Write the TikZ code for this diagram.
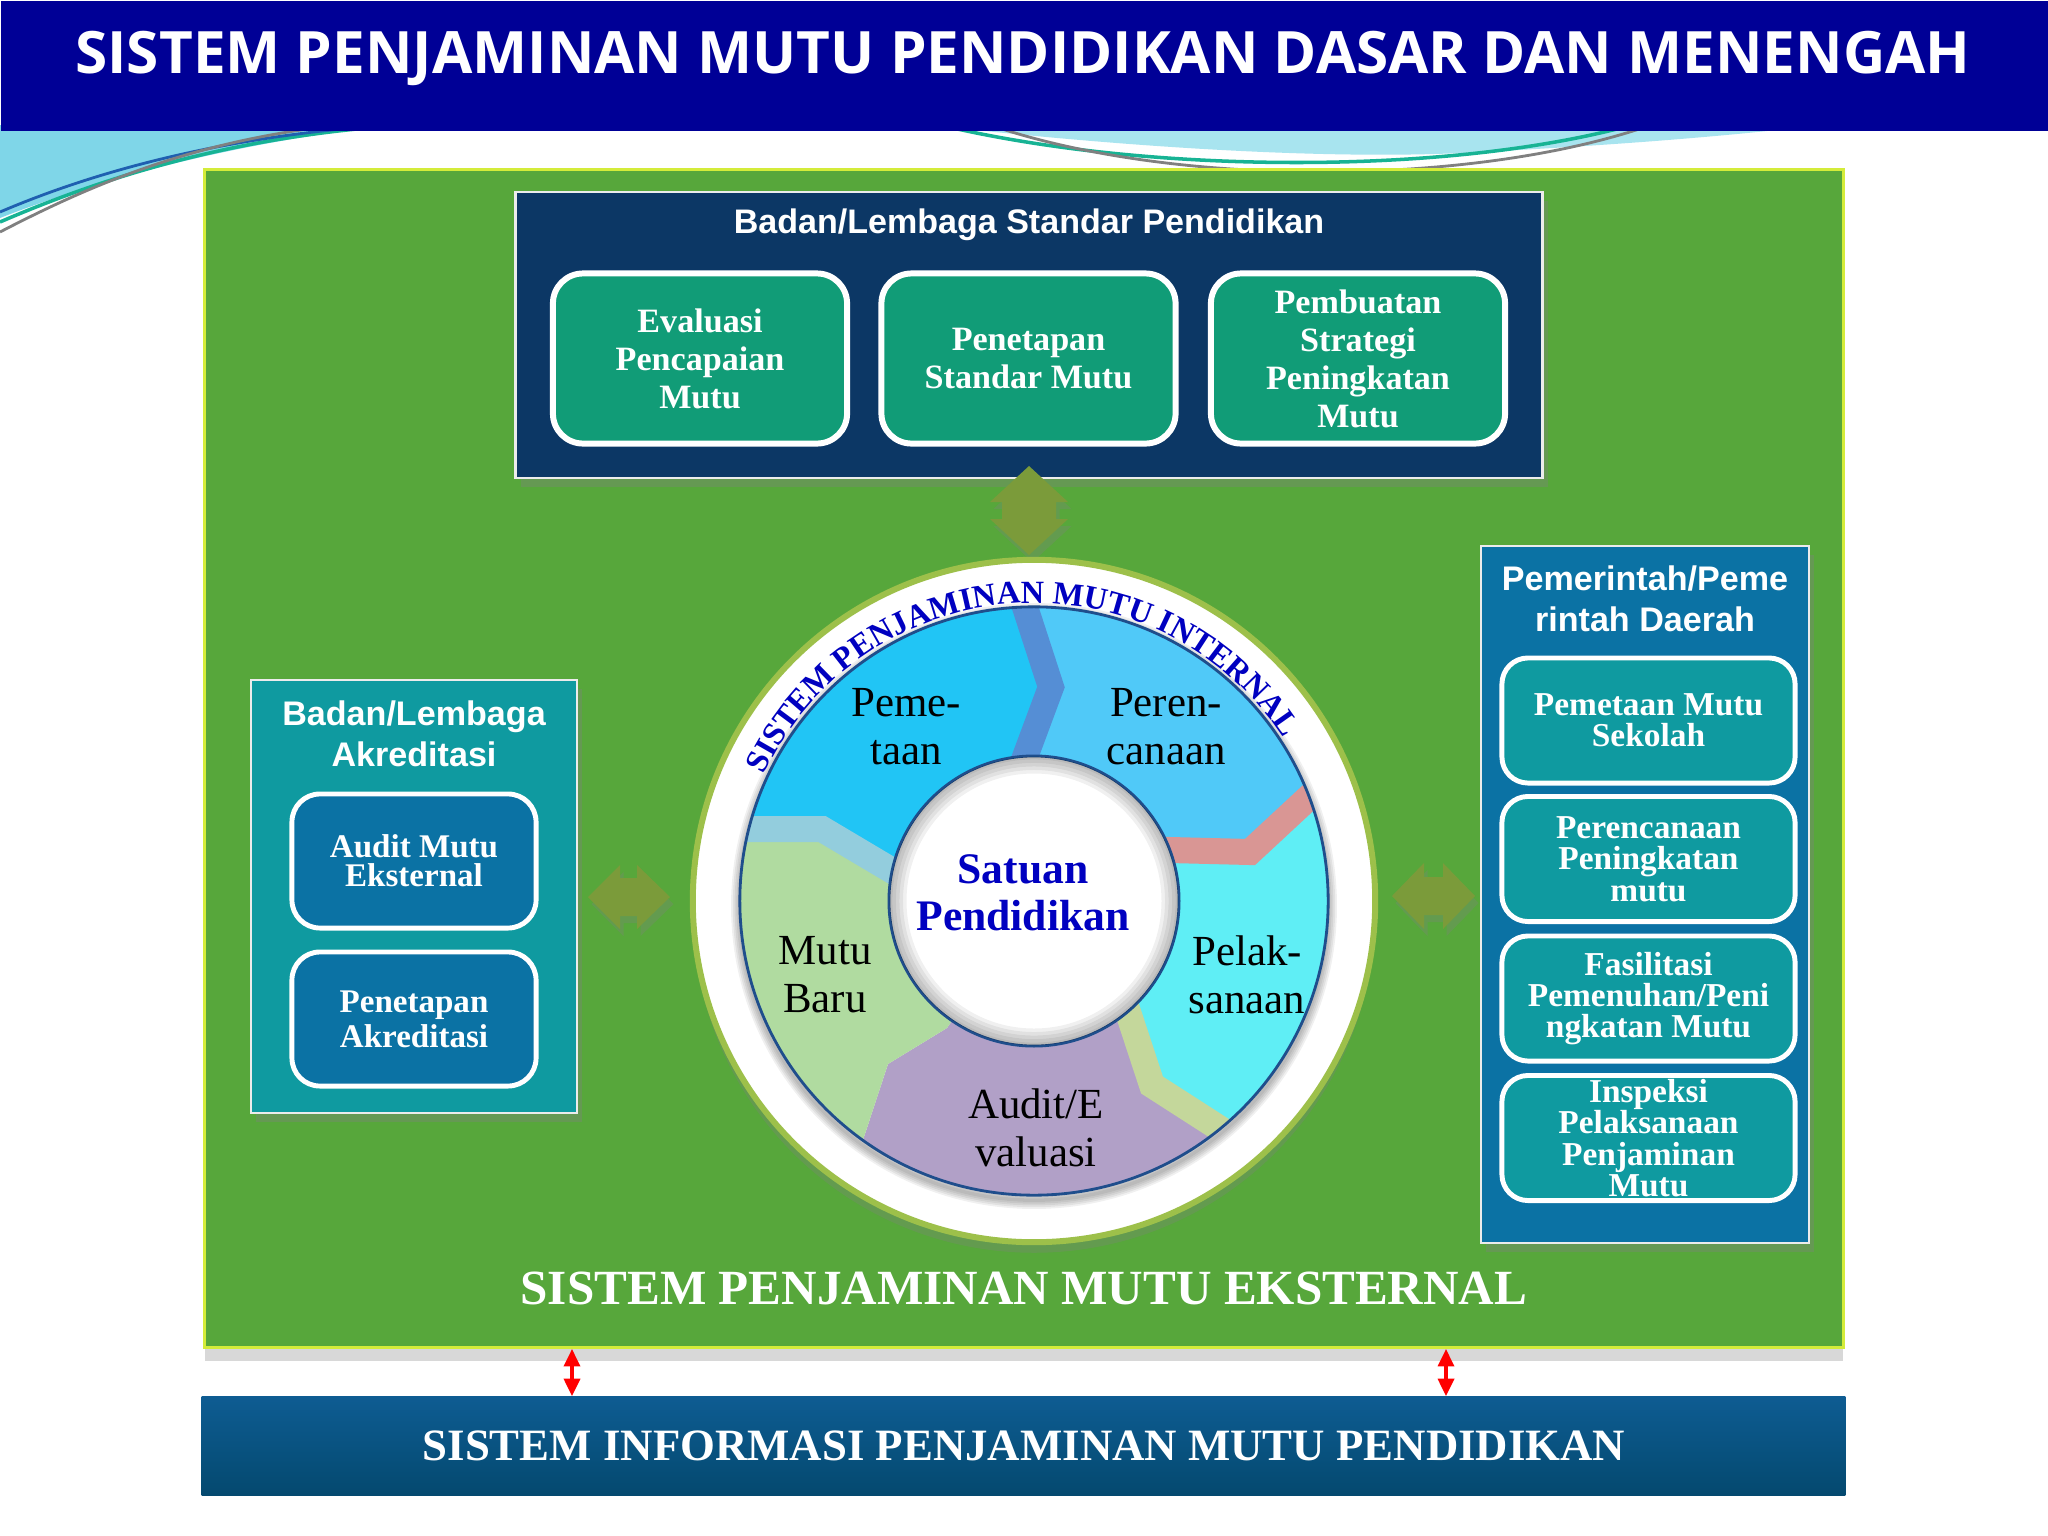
\documentclass[tikz,border=0pt]{standalone}
\usepackage{fontspec}
\usepackage{graphicx}
\setmainfont{Liberation Serif}
\newfontfamily\titlefont{Open Sans}
\newfontfamily\headfont{Liberation Sans}
\usetikzlibrary{calc,shadows,arrows.meta,decorations.text}

\definecolor{titleblue}{HTML}{000096}
\definecolor{greenbg}{HTML}{57A73B}
\definecolor{greenborder}{HTML}{D4EC3A}
\definecolor{navy}{HTML}{0C3765}
\definecolor{boxgreen}{HTML}{119C77}
\definecolor{tealc}{HTML}{0F9AA0}
\definecolor{bluebox}{HTML}{0B72A4}
\definecolor{arrowolive}{HTML}{7B9B3A}
\definecolor{ringline}{HTML}{1F4E8C}
\definecolor{ringgreen}{HTML}{9DC04A}
\definecolor{segPem}{HTML}{21C5F5}
\definecolor{segPer}{HTML}{50C9F8}
\definecolor{segPel}{HTML}{5FEEF5}
\definecolor{segAud}{HTML}{B1A0C7}
\definecolor{segMut}{HTML}{B0DBA0}
\definecolor{bandA}{HTML}{558ED5}
\definecolor{bandB}{HTML}{D99694}
\definecolor{bandC}{HTML}{C4D79B}
\definecolor{bandE}{HTML}{93CDDD}
\definecolor{textblue}{HTML}{0000C0}
\definecolor{bartop}{HTML}{0E5C92}
\definecolor{barbot}{HTML}{04496F}
\definecolor{waveCyan}{HTML}{7FD6E8}
\definecolor{waveLight}{HTML}{A8E4EF}
\definecolor{wTeal}{HTML}{17B394}
\definecolor{wBlue}{HTML}{1F5FB0}

\tikzset{
  hdr/.style={text=white, font=\headfont\bfseries\fontsize{9.7}{11.7}\selectfont, align=center, inner sep=0pt},
  panel/.style={draw=white!85!gray, line width=0.7pt, inner sep=0pt, drop shadow={opacity=0.35, shadow xshift=1.5pt, shadow yshift=-2.5pt}},
  stdbox/.style={rounded corners=0.3cm, draw=white, line width=1.7pt, fill=boxgreen, text=white, align=center, inner sep=0pt, minimum width=2.94cm, minimum height=1.70cm, font=\bfseries\fontsize{9.7}{10.8}\selectfont},
  leftbox/.style={rounded corners=0.28cm, draw=white, line width=1.4pt, fill=bluebox, text=white, align=center, inner sep=0pt, minimum width=2.44cm, minimum height=1.34cm, font=\bfseries\fontsize{9.4}{8.3}\selectfont},
  rightbox/.style={rounded corners=0.26cm, draw=white, line width=1.4pt, fill=tealc, text=white, align=center, inner sep=0pt, minimum width=2.93cm, minimum height=1.25cm, font=\bfseries\fontsize{9.5}{8.9}\selectfont},
  seglabel/.style={align=center, font=\fontsize{12.2}{13.7}\selectfont, text=black, inner sep=0pt},
  blockarrow/.style={fill=arrowolive, drop shadow={opacity=0.3, shadow xshift=1pt, shadow yshift=-2pt}},
  redarrow/.style={draw=red, line width=1.1pt, {Triangle[length=5pt,width=4.5pt]}-{Triangle[length=5pt,width=4.5pt]}},
  band/.style={line width=7.4pt, miter limit=10}
}

\begin{document}
\begin{tikzpicture}[x=0.01cm,y=-0.01cm]
\useasboundingbox (0,0) rectangle (2048,1536);
\fill[white] (0,0) rectangle (2048,1536);

% background waves
\fill[waveCyan] (0,125) -- (395,125) .. controls (250,140) and (110,175) .. (0,218) -- cycle;
\draw[wTeal, line width=1pt] (0,222) .. controls (120,170) and (250,135) .. (405,125);
\draw[wBlue, line width=0.8pt] (0,212) .. controls (110,165) and (240,135) .. (390,125);
\draw[gray, line width=0.8pt] (0,232) .. controls (100,180) and (200,140) .. (340,125);
\fill[waveLight] (930,125) .. controls (1150,150) and (1350,160) .. (1480,152) .. controls (1620,145) and (1740,135) .. (1820,125) -- cycle;
\draw[wTeal, line width=1pt] (940,125) .. controls (1150,175) and (1450,175) .. (1632,125);
\draw[gray, line width=0.8pt] (990,125) .. controls (1180,190) and (1480,185) .. (1651,125);

% title bar
\node[fill=titleblue, minimum width=20.48cm, minimum height=1.30cm, inner sep=0pt, anchor=north west] (titlebar) at (0,0) {};
\node[text=white, inner sep=0pt] (title) at (1023,58) {\resizebox{18.94cm}{!}{\titlefont\bfseries SISTEM PENJAMINAN MUTU PENDIDIKAN DASAR DAN MENENGAH}};

% external (green) frame
\node[fill=greenbg, draw=greenborder, line width=0.85pt, minimum width=16.38cm, minimum height=11.77cm, inner sep=0pt, drop shadow={opacity=0.3, shadow xshift=0pt, shadow yshift=-4pt}] (ext) at (1024,758.5) {};
\node[text=white, inner sep=0pt] (exttext) at (1024,1288) {\resizebox{10.06cm}{!}{\bfseries SISTEM PENJAMINAN MUTU EKSTERNAL}};

% standards body
\node[panel, fill=navy, minimum width=10.26cm, minimum height=2.86cm] (bsnp) at (1029,335) {};
\node[text=white, inner sep=0pt] (bsnptitle) at (1029,225) {\resizebox{5.90cm}{!}{\headfont\bfseries Badan/Lembaga Standar Pendidikan}};
\node[stdbox] (evaluasi) at (700,358.5) {Evaluasi\\Pencapaian\\Mutu};
\node[stdbox] (penetapanstd) at (1028.5,358.5) {Penetapan\\Standar Mutu};
\node[stdbox] (strategi) at (1358,358.5) {Pembuatan\\Strategi\\Peningkatan\\Mutu};

% accreditation body
\node[panel, fill=tealc, minimum width=3.26cm, minimum height=4.33cm] (akr) at (414,896.5) {};
\node[hdr] (akrtitle) at (414,733.5) {Badan/Lembaga\\Akreditasi};
\node[leftbox] (audit) at (414,861) {Audit Mutu\\Eksternal};
\node[leftbox, font=\bfseries\fontsize{9.4}{10}\selectfont] (penakr) at (414,1019) {Penetapan\\Akreditasi};

% government
\node[panel, fill=bluebox, minimum width=3.28cm, minimum height=6.97cm] (pem) at (1645,894.5) {};
\node[hdr] (pemtitle) at (1645,599) {Pemerintah/Peme\\rintah Daerah};
\node[rightbox] (r1) at (1648.5,720.5) {Pemetaan Mutu\\Sekolah};
\node[rightbox] (r2) at (1648.5,859) {Perencanaan\\Peningkatan\\mutu};
\node[rightbox] (r3) at (1648.5,998.5) {Fasilitasi\\Pemenuhan/Peni\\ngkatan Mutu};
\node[rightbox] (r4) at (1648.5,1138) {Inspeksi\\Pelaksanaan\\Penjaminan\\Mutu};

% block arrows
\coordinate (aT) at (1029,510);
\coordinate (aL) at (629,897);
\coordinate (aR) at (1433,896);
\fill[blockarrow] (aT) ++(0,-44) -- ++(39,36) -- ++(-12,0) -- ++(0,17) -- ++(12,0) -- ++(-39,36) -- ++(-39,-36) -- ++(12,0) -- ++(0,-17) -- ++(-12,0) -- cycle;
\fill[blockarrow] (aL) ++(-41,0) -- ++(32,-32) -- ++(0,13) -- ++(17,0) -- ++(0,-13) -- ++(33,32) -- ++(-33,32) -- ++(0,-13) -- ++(-17,0) -- ++(0,13) -- cycle;
\fill[blockarrow] (aR) ++(-41,0) -- ++(32,-33) -- ++(0,14) -- ++(19,0) -- ++(0,-14) -- ++(32,33) -- ++(-32,33) -- ++(0,-14) -- ++(-19,0) -- ++(0,14) -- cycle;

% internal system circle
\coordinate (C) at (1034,901);
\node[circle, fill=white, draw=ringgreen, line width=1.7pt, minimum size=6.82cm, inner sep=0pt, drop shadow={opacity=0.3, shadow xshift=0pt, shadow yshift=-3pt}] (disk) at (C) {};
\foreach \w in {1,2,3,4,5}{\draw[black, opacity=0.06, line width=\w pt] ($(C)+(0,5)$) circle[radius=2.94cm];}

\coordinate (A1) at (1025,607); \coordinate (M1) at (1051,687); \coordinate (D1) at (1025,757);
\coordinate (A2) at (1306,800); \coordinate (M2) at (1250,852); \coordinate (D2) at (1170,850);
\coordinate (A3) at (1222,1130); \coordinate (M3) at (1152,1085); \coordinate (D3) at (1128,1012);
\coordinate (A4) at (862,1143); \coordinate (M4) at (888,1064); \coordinate (D4) at (947,1028);
\coordinate (A5) at (751,829); \coordinate (M5) at (822,829); \coordinate (D5) at (891,870);

\begin{scope}
\clip (C) circle[radius=2.94cm];
\fill[segPer] ($(C)!2!(A1)$) -- (A1) -- (M1) -- (D1) -- (C) -- (D2) -- (M2) -- (A2) -- ($(C)!2!(A2)$) -- cycle;
\fill[segPel] ($(C)!2!(A2)$) -- (A2) -- (M2) -- (D2) -- (C) -- (D3) -- (M3) -- (A3) -- ($(C)!2!(A3)$) -- cycle;
\fill[segAud] ($(C)!2!(A3)$) -- (A3) -- (M3) -- (D3) -- (C) -- (D4) -- (M4) -- (A4) -- ($(C)!2!(A4)$) -- cycle;
\fill[segMut] ($(C)!2!(A4)$) -- (A4) -- (M4) -- (D4) -- (C) -- (D5) -- (M5) -- (A5) -- ($(C)!2!(A5)$) -- cycle;
\fill[segPem] ($(C)!2!(A5)$) -- (A5) -- (M5) -- (D5) -- (C) -- (D1) -- (M1) -- (A1) -- ($(C)!2!(A1)$) -- cycle;
\draw[band, bandA] ($(M1)!2!(A1)$) -- (M1) -- ($(M1)!2!(D1)$);
\draw[band, bandB] ($(M2)!2!(A2)$) -- (M2) -- ($(M2)!2!(D2)$);
\draw[band, bandC] ($(M3)!2!(A3)$) -- (M3) -- ($(M3)!2!(D3)$);
\draw[band, bandE] ($(M5)!2!(A5)$) -- (M5) -- ($(M5)!2!(D5)$);
\end{scope}
\draw[ringline, line width=0.8pt] (C) circle[radius=2.94cm];

\node[circle, fill=white, draw=ringline, line width=0.8pt, minimum size=2.9cm, inner sep=0pt] (hole) at (C) {};
\begin{scope}
\clip (C) circle[radius=1.44cm];
\foreach \w in {2,4,6,8,10}{\draw[black, opacity=0.06, line width=\w pt] (C) circle[radius=1.45cm];}
\end{scope}

\node[seglabel] (lblPem) at (906,727) {Peme-\\taan};
\node[seglabel] (lblPer) at (1166,727) {Peren-\\canaan};
\node[seglabel] (lblPel) at (1247,975) {Pelak-\\sanaan};
\node[seglabel] (lblAud) at (1036,1128) {Audit/E\\valuasi};
\node[seglabel] (lblMut) at (825,975) {Mutu\\Baru};
\node[align=center, text=textblue, inner sep=0pt, font=\bfseries\fontsize{12.4}{13.4}\selectfont] (satuan) at (1023,893) {Satuan\\Pendidikan};

\path[decorate, decoration={text along path, text align=center, text={|\bfseries\fontsize{9.2}{10}\selectfont\color{textblue}|SISTEM PENJAMINAN MUTU INTERNAL}}]
  ($(C)+(-172:298)$) arc[start angle=-172, end angle=-16, radius=298];

% information system bar
\node[top color=bartop, bottom color=barbot, minimum width=16.43cm, minimum height=0.98cm, inner sep=0pt] (sipm) at (1023.5,1446) {};
\node[text=white, inner sep=0pt] (sipmtext) at (1024,1446) {\resizebox{12.02cm}{!}{\bfseries SISTEM INFORMASI PENJAMINAN MUTU PENDIDIKAN}};

\coordinate (x1) at (572,0);
\coordinate (x2) at (1446,0);
\draw[redarrow] (ext.south -| x1) -- (sipm.north -| x1);
\draw[redarrow] (ext.south -| x2) -- (sipm.north -| x2);
\end{tikzpicture}
\end{document}
